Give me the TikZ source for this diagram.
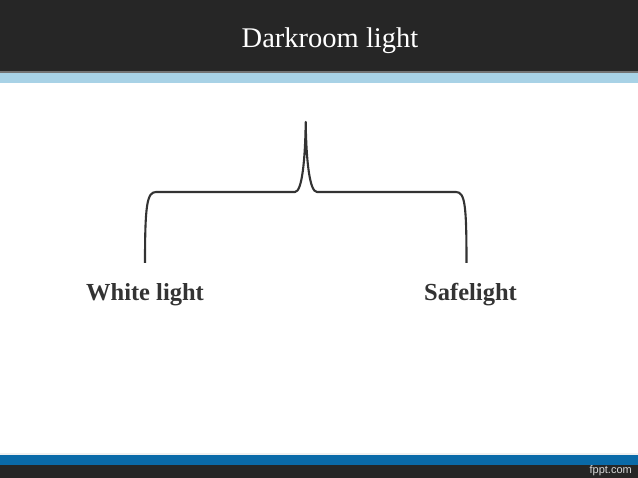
\documentclass[tikz,border=0pt]{standalone}
\usepackage{fontspec}
\setmainfont{Liberation Serif}
\newfontfamily\footfont{Liberation Sans}
\usetikzlibrary{calc,positioning}
\definecolor{boardgray}{RGB}{38,38,38}
\definecolor{skyband}{RGB}{168,210,230}
\definecolor{seaband}{RGB}{10,106,168}
\definecolor{inkgray}{RGB}{51,51,51}
\tikzset{
  titletext/.style={
    text=white,
    font=\fontsize{28.5}{32}\selectfont,
    anchor=base,
    inner sep=0pt},
  leaftext/.style={
    text=inkgray,
    font=\fontsize{24.5}{28}\selectfont\bfseries,
    anchor=base,
    inner sep=0pt},
  bracket/.style={draw=inkgray, line width=2.1pt, line join=round},
}

\begin{document}
\begin{tikzpicture}[x=1pt,y=-1pt]

    \useasboundingbox (0,0) rectangle (638,478);
    \fill[white] (0,0) rectangle (638,478);

    % header and footer bands
    \fill[boardgray] (0,0) rectangle (638,72);
    \fill[black!55] (0,71) rectangle (638,73);
    \fill[skyband] (0,73) rectangle (638,83);
    \fill[black!6] (0,453) rectangle (638,455);
    \fill[seaband] (0,455) rectangle (638,465);
    \fill[boardgray] (0,465) rectangle (638,478);

    \node[titletext] (title) at (330,47.5) {Darkroom light};
    \node[anchor=east, text=white!85!black, inner sep=0pt,
          font=\footfont\fontsize{11}{12}\selectfont] (site) at (632,471) {fppt.com};

    % the brace
    \coordinate (legL) at (145,263);
    \coordinate (legR) at (466.5,263);
    \coordinate (tip) at (305.7,122);

    \draw[bracket] (legL) .. controls (145,205) and (147,192) .. (156,192)
        -- (295,192) .. controls (302,192) and (305.2,160) .. (tip)
        .. controls (306.2,160) and (309.5,192) .. (317,192)
        -- (456,192) .. controls (465,192) and (466.5,205) .. (legR);

    \node[leaftext] (white) at (145,300.5) {White light};
    \node[leaftext] (safe) at (470.5,300.5) {Safelight};

\end{tikzpicture}
\end{document}
